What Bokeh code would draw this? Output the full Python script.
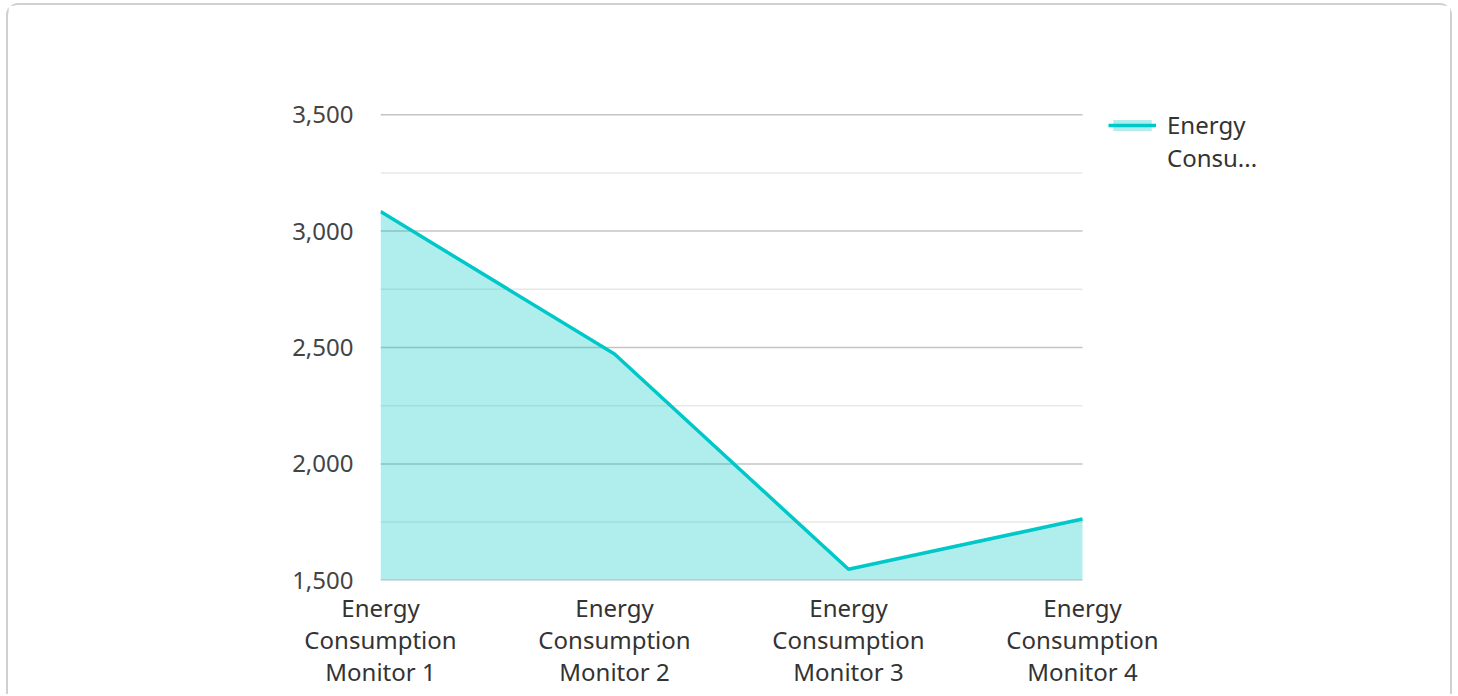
from bokeh.plotting import figure
from bokeh.models import (ColumnDataSource, SingleIntervalTicker, FixedTicker,
                          NumeralTickFormatter, Legend, LegendItem, Range1d)
from bokeh.embed import file_html
from bokeh.resources import INLINE

categories = ["Energy\nConsumption\nMonitor 1", "Energy\nConsumption\nMonitor 2",
              "Energy\nConsumption\nMonitor 3", "Energy\nConsumption\nMonitor 4"]
values = [3084, 2472, 1547, 1763]
series_name = "Energy Consumption"
legend_line1 = "Energy"
legend_line2 = "Consu..."
y_min, y_max, y_step = 1500, 3500, 500

xs = list(range(len(categories)))
src = ColumnDataSource(dict(x=xs, y=values, base=[y_min] * len(xs)))

FONT = "Noto Sans"
LINE = "#00c8c8"
MAJOR = "#c4c4c4"
MINOR = "#e8e8e8"

# plot area of the series spans 702x466 px; the frame is widened (right) and
# raised (top) so that the legend fits inside it without being clipped
PLOT_W, FRAME_W = 702, 1000
PLOT_H, EXTRA_TOP = 466, 20
x_end = (len(xs) - 1) * FRAME_W / PLOT_W
y_lo, y_hi = y_min - 1, y_max + 1
y_hi_ext = y_hi + EXTRA_TOP * (y_hi - y_lo) / PLOT_H

p = figure(width=1446, height=691, output_backend="svg", toolbar_location=None,
           x_range=Range1d(0, x_end), y_range=Range1d(y_lo, y_hi_ext),
           min_border_left=372, min_border_right=1446 - 372 - FRAME_W,
           min_border_top=109 - EXTRA_TOP, min_border_bottom=116)
p.styles = {"margin-left": "6px", "margin-top": "3px",
            "border": "2px solid #d0d0d0", "border-bottom": "none",
            "border-radius": "12px 12px 0 0"}
p.outline_line_color = None
p.background_fill_color = "white"
p.border_fill_color = "white"

# horizontal grid lines limited to the series' x extent
major_ticks = list(range(y_min, y_max + 1, y_step))
minor_ticks = [t + y_step / 2 for t in major_ticks[:-1]]
p.xgrid.grid_line_color = None
p.ygrid.grid_line_color = None
p.segment(x0=[0] * len(minor_ticks), x1=[xs[-1]] * len(minor_ticks),
          y0=minor_ticks, y1=minor_ticks, line_color=MINOR, line_width=1.5)
p.segment(x0=[0] * len(major_ticks), x1=[xs[-1]] * len(major_ticks),
          y0=major_ticks, y1=major_ticks, line_color=MAJOR, line_width=1.5)

area = p.varea(x="x", y1="base", y2="y", source=src, fill_color=LINE, fill_alpha=0.31)
line = p.line(x="x", y="y", source=src, line_color=LINE, line_width=3.5)
blank = p.line(x=[], y=[], line_alpha=0)

# y axis
p.yaxis.ticker = FixedTicker(ticks=major_ticks)
p.yaxis.formatter = NumeralTickFormatter(format="0,0")
p.yaxis.axis_line_color = None
p.yaxis.major_tick_line_color = None
p.yaxis.minor_tick_line_color = None
p.yaxis.major_label_standoff = 21
p.yaxis.major_label_text_font = FONT
p.yaxis.major_label_text_font_size = "24px"
p.yaxis.major_label_text_color = "#444444"

# x axis
p.xaxis.ticker = FixedTicker(ticks=xs)
p.xaxis.major_label_overrides = {i: c for i, c in enumerate(categories)}
p.xaxis.axis_line_color = None
p.xaxis.major_tick_line_color = None
p.xaxis.minor_tick_line_color = None
p.xaxis.major_label_standoff = 4
p.xaxis.major_label_text_font = FONT
p.xaxis.major_label_text_font_size = "24px"
p.xaxis.major_label_text_color = "#333333"
p.xaxis.major_label_text_line_height = 0.97

legend = Legend(items=[LegendItem(label=legend_line1, renderers=[area, line]),
                       LegendItem(label=legend_line2, renderers=[blank])],
                location=(PLOT_W + 26, 406), orientation="vertical")
legend.border_line_color = None
legend.background_fill_alpha = 0
legend.margin = 0
legend.padding = 0
legend.spacing = 0
legend.glyph_width = 48
legend.glyph_height = 14
legend.label_standoff = 11
legend.label_text_font = FONT
legend.label_text_font_size = "24px"
legend.label_text_color = "#333333"
p.add_layout(legend, "center")

open("out.html", "w").write(file_html(p, INLINE))
